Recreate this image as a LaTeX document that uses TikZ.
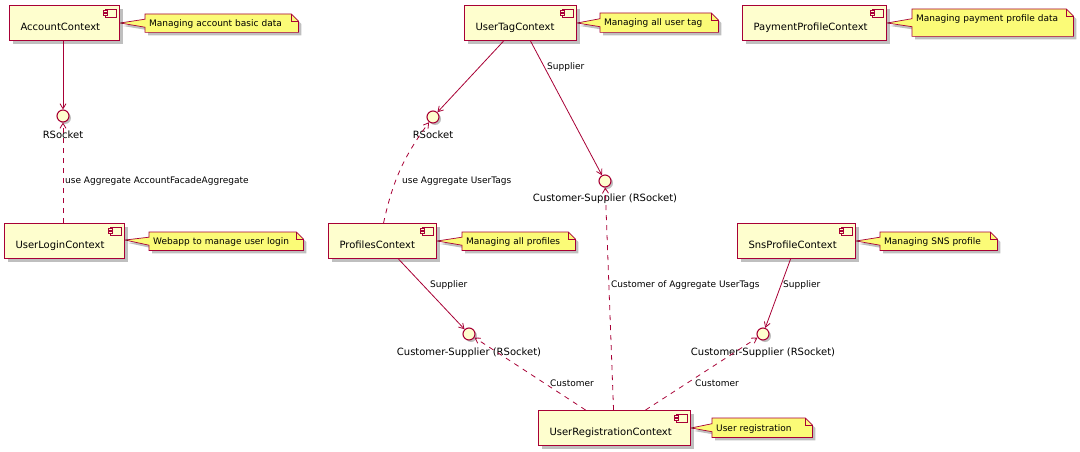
\documentclass[tikz,border=0pt]{standalone}
\usepackage{fontspec}
\setmainfont{DejaVu Sans}
\usetikzlibrary{arrows.meta,shadows,backgrounds,calc}
\definecolor{pumlred}{HTML}{A80036}
\definecolor{boxfill}{HTML}{FEFECE}
\definecolor{notefill}{HTML}{FBFB77}
\tikzset{
  pshadow/.style={drop shadow={shadow xshift=3pt,shadow yshift=-3pt,opacity=0.25,fill=black}},
  comp/.style={draw=pumlred, fill=boxfill, line width=1.1pt, anchor=north west,
    inner xsep=11pt, inner ysep=0pt, text height=24.5pt, text depth=10.5pt,
    align=left, font=\fontsize{10}{12}\selectfont, pshadow},
  notetxt/.style={anchor=north west, inner xsep=4pt, inner ysep=0pt,
    text height=12.3pt, text depth=5.7pt, align=left, font=\fontsize{9}{11}\selectfont},
  noteshape/.style={draw=pumlred, fill=notefill, line width=0.7pt, pshadow},
  iface/.style={circle, draw=pumlred, fill=boxfill, line width=1.1pt, minimum size=12pt, inner sep=0pt,
    drop shadow={shadow xshift=2pt,shadow yshift=-2pt,opacity=0.25,fill=black}},
  ilabel/.style={font=\fontsize{10}{12}\selectfont, inner sep=0pt},
  elabel/.style={font=\fontsize{9}{11}\selectfont, inner sep=0pt, anchor=west},
  conn/.style={draw=pumlred, line width=0.8pt, -{Straight Barb[length=5pt,width=6pt]}},
  dconn/.style={conn, dash pattern=on 5pt off 5pt},
}
\newcommand\compicon[1]{%
  \draw[pumlred, fill=boxfill, line width=0.8pt] ($(#1.north east)+(-15,4)$) rectangle ($(#1.north east)+(-4,12)$);
  \draw[pumlred, fill=boxfill, line width=0.8pt] ($(#1.north east)+(-17,5.5)$) rectangle ($(#1.north east)+(-13,7.5)$);
  \draw[pumlred, fill=boxfill, line width=0.8pt] ($(#1.north east)+(-17,8.5)$) rectangle ($(#1.north east)+(-13,10.5)$);
}
\newcommand\noteoutline[2]{%
  \path[noteshape] (#1.north west) -- ($(#1.north east)+(-7,0)$) -- ($(#1.north east)+(0,7)$)
    -- (#1.south east) -- (#1.south west) -- ($(#1.west)+(0,4)$) -- (#2) -- ($(#1.west)+(0,-4)$) -- cycle;
  \draw[pumlred, line width=0.7pt] ($(#1.north east)+(-7,0)$) -- ($(#1.north east)+(-7,7)$) -- ($(#1.north east)+(0,7)$);
}
\begin{document}
\begin{tikzpicture}[x=1pt,y=-1pt]
\useasboundingbox (0,0) rectangle (1080,452);

% components
\node[comp, text width=88pt] (ac) at (9,5) {AccountContext};
\node[comp, text width=98pt] (ul) at (4,223) {UserLoginContext};
\node[comp, text width=90pt] (ut) at (464,5) {UserTagContext};
\node[comp, text width=122pt] (pp) at (742,5) {PaymentProfileContext};
\node[comp, text width=86pt] (pc) at (328,223) {ProfilesContext};
\node[comp, text width=96pt] (sp) at (737,223) {SnsProfileContext};
\node[comp, text width=130pt] (ur) at (538,410) {UserRegistrationContext};
\compicon{ac}\compicon{ul}\compicon{ut}\compicon{pp}\compicon{pc}\compicon{sp}\compicon{ur}

% notes
\node[notetxt, text width=145pt] (n1) at (145,14) {Managing account basic data};
\node[notetxt, text width=146pt] (n2) at (149,232) {Webapp to manage user login};
\node[notetxt, text width=110pt, text height=12.8pt, text depth=6.2pt] (n3) at (600,13) {Managing all user tag};
\node[notetxt, text width=153pt, text height=12pt, text depth=15pt] (n4) at (912,9) {Managing payment profile data};
\node[notetxt, text width=105pt] (n5) at (462,232) {Managing all profiles};
\node[notetxt, text width=109pt] (n6) at (880,232) {Managing SNS profile};
\node[notetxt, text width=92pt, text height=12.8pt, text depth=6.2pt] (n7) at (712,418) {User registration};
\coordinate (t1) at ($(ac.north east)+(0,18)$);
\coordinate (t2) at ($(ul.north east)+(0,17)$);
\coordinate (t3) at ($(ut.north east)+(0,18)$);
\coordinate (t4) at ($(pp.north east)+(0,18)$);
\coordinate (t5) at ($(pc.north east)+(0,18)$);
\coordinate (t6) at ($(sp.north east)+(0,18)$);
\coordinate (t7) at ($(ur.north east)+(0,18)$);
\begin{pgfonlayer}{background}
\fill[white] (0,0) rectangle (1080,452);
\noteoutline{n1}{t1}\noteoutline{n2}{t2}\noteoutline{n3}{t3}\noteoutline{n4}{t4}
\noteoutline{n5}{t5}\noteoutline{n6}{t6}\noteoutline{n7}{t7}
\end{pgfonlayer}

% interfaces
\node[iface] (rs1) at (63,116) {};
\node[ilabel] (rs1l) at (63,135) {RSocket};
\node[iface] (rs2) at (433,117) {};
\node[ilabel] (rs2l) at (433,135) {RSocket};
\node[iface] (cs1) at (605,181) {};
\node[ilabel] (cs1l) at (605,199) {Customer-Supplier (RSocket)};
\node[iface] (cs2) at (469,334) {};
\node[ilabel] (cs2l) at (469,353) {Customer-Supplier (RSocket)};
\node[iface] (cs3) at (763,334) {};
\node[ilabel] (cs3l) at (763,353) {Customer-Supplier (RSocket)};

% connectors
\draw[conn] (ac.south -| rs1) -- (rs1);
\draw[dconn] (ul.north -| rs1) -- (rs1);
\node[elabel] (l1) at (65,181) {use Aggregate AccountFacadeAggregate};
\draw[conn] ([xshift=-17pt]ut.south) -- (rs2);
\draw[conn] ([xshift=10pt]ut.south) -- (cs1);
\node[elabel] (l2) at (547,67) {Supplier};
\draw[dconn] ([xshift=1pt]pc.north) to[bend left=12] (rs2);
\node[elabel] (l3) at (402,181) {use Aggregate UserTags};
\draw[conn] ([xshift=16pt]pc.south) -- (cs2);
\node[elabel] (l4) at (430,285) {Supplier};
\draw[conn] ([xshift=-6pt]sp.south) -- (cs3);
\node[elabel] (l5) at (783,285) {Supplier};
\draw[dconn] ([xshift=-29pt]ur.north) -- (cs2);
\node[elabel] (l6) at (550,383) {Customer};
\draw[dconn] ([xshift=-1pt]ur.north) -- (cs1);
\node[elabel] (l7) at (611,285) {Customer of Aggregate UserTags};
\draw[dconn] ([xshift=31pt]ur.north) -- (cs3);
\node[elabel] (l8) at (695,383) {Customer};
\end{tikzpicture}
\end{document}
